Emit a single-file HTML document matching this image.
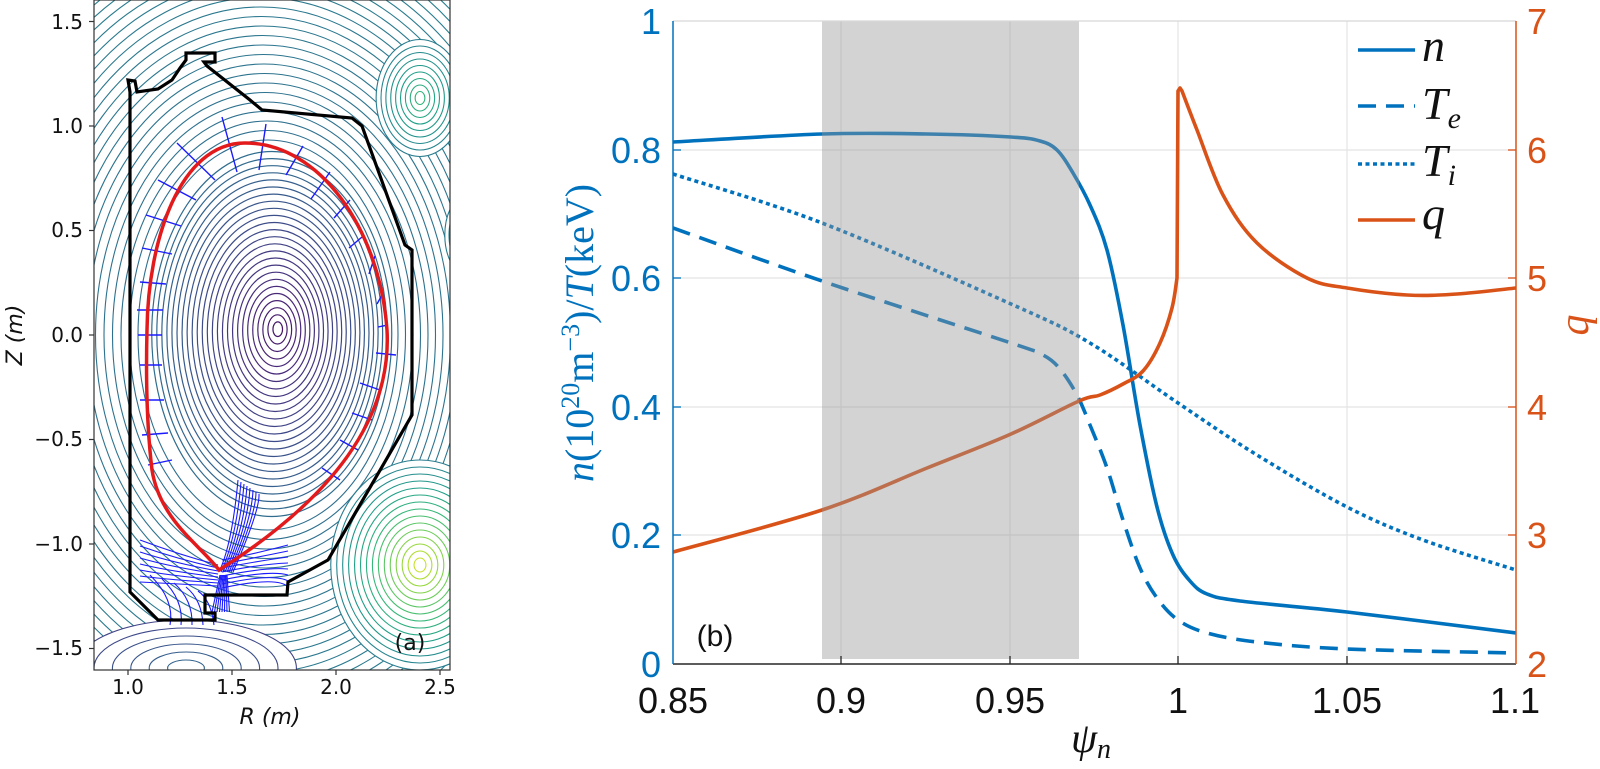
<!DOCTYPE html>
<html><head><meta charset="utf-8">
<style>
html,body{margin:0;padding:0;background:#fff;overflow:hidden;width:1600px;height:769px;}
svg{display:block;}
</style></head>
<body>
<svg id="s" width="1600" height="769" viewBox="0 0 1600 769" xmlns="http://www.w3.org/2000/svg">
<defs>
<clipPath id="cl"><rect x="94" y="0" width="356" height="670"/></clipPath>
<clipPath id="cr"><rect x="673" y="21" width="843" height="643"/></clipPath>
</defs>
<rect width="1600" height="769" fill="#fff"/>
<g id="left" clip-path="url(#cl)"></g>
<rect x="94" y="0" width="356" height="670" fill="none" stroke="#333" stroke-width="1.2"/>
<g font-family="DejaVu Sans, sans-serif" font-size="20" fill="#111">
<text x="83" y="29" text-anchor="end">1.5</text>
<text x="83" y="133" text-anchor="end">1.0</text>
<text x="83" y="237" text-anchor="end">0.5</text>
<text x="83" y="342" text-anchor="end">0.0</text>
<text x="83" y="446" text-anchor="end">−0.5</text>
<text x="83" y="551" text-anchor="end">−1.0</text>
<text x="83" y="655" text-anchor="end">−1.5</text>
<text x="128" y="694" text-anchor="middle">1.0</text>
<text x="232" y="694" text-anchor="middle">1.5</text>
<text x="336" y="694" text-anchor="middle">2.0</text>
<text x="440" y="694" text-anchor="middle">2.5</text>
<text x="270" y="724" text-anchor="middle" font-style="italic" font-size="22">R (m)</text>
<text transform="translate(22,335) rotate(-90)" text-anchor="middle" font-style="italic" font-size="22">Z (m)</text>
<text x="410" y="650" text-anchor="middle" font-size="22">(a)</text>
</g>
<g id="ltk" stroke="#333" stroke-width="1.2"></g>

<g id="grid" stroke="#e4e4e4" stroke-width="1.2"></g>
<g id="curves" clip-path="url(#cr)" fill="none" stroke-width="3.6" stroke-linejoin="round"></g>
<rect x="822" y="21" width="257" height="638" fill="rgb(150,150,150)" fill-opacity="0.42"/>
<line x1="673" y1="21" x2="1516" y2="21" stroke="#d8d8d8" stroke-width="1.2"/>
<line x1="673" y1="664" x2="1516" y2="664" stroke="#262626" stroke-width="1.5"/>
<line x1="673" y1="21" x2="673" y2="664" stroke="#0072BD" stroke-width="1.5"/>
<line x1="1516" y1="21" x2="1516" y2="664" stroke="#D95319" stroke-width="1.5"/>
<g id="rtk" stroke-width="1.3"></g>
<text x="715" y="646" font-family="Liberation Sans, sans-serif" font-size="30" text-anchor="middle" fill="#111">(b)</text>
<g font-family="Liberation Sans, sans-serif" font-size="36" fill="#0072BD" text-anchor="end">
<text x="661" y="34">1</text>
<text x="661" y="163">0.8</text>
<text x="661" y="291">0.6</text>
<text x="661" y="420">0.4</text>
<text x="661" y="548">0.2</text>
<text x="661" y="677">0</text>
</g>
<g font-family="Liberation Sans, sans-serif" font-size="36" fill="#D95319">
<text x="1527" y="34">7</text>
<text x="1527" y="163">6</text>
<text x="1527" y="291">5</text>
<text x="1527" y="420">4</text>
<text x="1527" y="548">3</text>
<text x="1527" y="677">2</text>
</g>
<g font-family="Liberation Sans, sans-serif" font-size="36" fill="#111" text-anchor="middle">
<text x="673" y="713">0.85</text>
<text x="841" y="713">0.9</text>
<text x="1010" y="713">0.95</text>
<text x="1178" y="713">1</text>
<text x="1347" y="713">1.05</text>
<text x="1515" y="713">1.1</text>
</g>
<text x="1091" y="752" font-family="Liberation Serif, serif" font-style="italic" font-size="42" text-anchor="middle" fill="#111">ψ<tspan font-size="28" dy="6">n</tspan></text>
<text transform="translate(593,333) rotate(-90)" font-family="Liberation Serif, serif" font-size="40" text-anchor="middle" fill="#0072BD"><tspan font-style="italic">n</tspan>(10<tspan font-size="26" dy="-14">20</tspan><tspan dy="14">m</tspan><tspan font-size="26" dy="-14">−3</tspan><tspan dy="14">)/</tspan><tspan font-style="italic">T</tspan>(keV)</text>
<text transform="translate(1588,325) rotate(-90)" font-family="Liberation Serif, serif" font-style="italic" font-size="42" text-anchor="middle" fill="#D95319">q</text>
<g stroke-width="3.6" fill="none">
<line x1="1358" y1="50" x2="1415" y2="50" stroke="#0072BD"/>
<line x1="1358" y1="106" x2="1415" y2="106" stroke="#0072BD" stroke-dasharray="18,10"/>
<line x1="1358" y1="164" x2="1415" y2="164" stroke="#0072BD" stroke-dasharray="4,3.5"/>
<line x1="1358" y1="220" x2="1415" y2="220" stroke="#D95319"/>
</g>
<g font-family="Liberation Serif, serif" font-style="italic" font-size="46" fill="#111">
<text x="1422" y="61">n</text>
<text x="1422" y="119">T<tspan font-size="30" dy="9">e</tspan></text>
<text x="1422" y="176">T<tspan font-size="30" dy="9">i</tspan></text>
<text x="1422" y="229">q</text>
</g>
</svg>
<script>
const NS="http://www.w3.org/2000/svg";
function el(p,tag,a){const e=document.createElementNS(NS,tag);for(const k in a)e.setAttribute(k,a[k]);p.appendChild(e);return e;}
function hex(c){return [parseInt(c.slice(1,3),16),parseInt(c.slice(3,5),16),parseInt(c.slice(5,7),16)];}
const vir=["#440154","#482878","#3e4989","#31688e","#26828e","#1f9e89","#35b779","#6ece58","#b5de2b","#fde725"].map(hex);
function vc(t){t=Math.max(0,Math.min(1,t));const f=t*9,i=Math.min(8,Math.floor(f)),u=f-i;const a=vir[i],b=vir[i+1];return "rgb("+a.map((v,j)=>Math.round(v+(b[j]-v)*u)).join(",")+")";}
const L=document.getElementById("left");
for(let k=0;k<25;k++){
  const rx=130+8*k, ry=195+9.5*k;
  el(L,"ellipse",{cx:268-0.5*k,cy:335,rx:rx,ry:ry,fill:"none",stroke:vc(0.36+k*0.003),"stroke-width":1.1});
}
function coil(cx,cy,n,step,t0,t1,sx){for(let k=n;k>=1;k--){el(L,"ellipse",{cx:cx,cy:cy,rx:k*step*(sx||1),ry:k*step,fill:"#fff",stroke:vc(t1-(t1-t0)*k/n),"stroke-width":1.1});}}
coil(420,565,15,7,0.42,0.95,0.85);
coil(420,98,9,6.5,0.42,0.68,0.75);
coil(470,235,6,7,0.42,0.6,0.6);
coil(186,668,6,8,0.2,0.34,2.3);
for(let k=1;k<=25;k++){
  const rx=4.8*k, ry=7.3*k;
  el(L,"ellipse",{cx:278-0.25*k,cy:329+0.2*k,rx:rx,ry:ry,fill:"none",stroke:vc(0.05+k*0.012),"stroke-width":1.2});
}
const bl="#1a1aff";
for(let i=0;i<8;i++){
  el(L,"path",{d:`M${219+i*2},572 Q${232+i*4},${545-i*5} ${238+i*3},${480+i*2}`,fill:"none",stroke:bl,"stroke-width":1.1});
  el(L,"path",{d:`M${222},${560+i*4} Q${250+i*4},${555+i*3} ${288},${545+i*6}`,fill:"none",stroke:bl,"stroke-width":1.1});
  el(L,"path",{d:`M${218},${565+i*3} Q${180-i*3},${555+i*4} ${140},${540+i*6}`,fill:"none",stroke:bl,"stroke-width":1.1});
  el(L,"path",{d:`M${220+i},575 L${212+i*2.5},${612}`,fill:"none",stroke:bl,"stroke-width":1.1});
}
for(let i=0;i<5;i++){el(L,"path",{d:`M${150+i*12},${575+i*4} Q${175+i*9},${600} ${170+i*11},${625}`,fill:"none",stroke:bl,"stroke-width":1.1});}
const sep="M219,570 C200,545 160,520 152,470 C146,420 146,370 147,330 C148,240 180,143 245,143 C320,143 380,230 387,330 C392,420 330,500 219,570 Z";
const tk=[[177,143,215,180],[222,117,237,172],[266,124,259,170],[303,146,286,175],[330,172,311,199],[350,200,334,218],[362,237,349,248],[375,256,369,274],[382,295,377,304],[388,325,378,327],[396,355,376,353],[138,335,162,335],[137,310,163,310],[140,282,166,284],[142,248,172,254],[146,215,181,226],[158,180,196,200],[140,365,162,365],[140,400,164,400],[142,435,168,433],[148,465,172,460],[380,390,360,383],[372,420,352,413],[358,450,340,440],[340,480,322,468]];
tk.forEach(t=>el(L,"line",{x1:t[0],y1:t[1],x2:t[2],y2:t[3],stroke:bl,"stroke-width":1.4}));
el(L,"path",{d:sep,fill:"none",stroke:"#e31a1c","stroke-width":3.5});
el(L,"path",{d:"M130,592 L130,92 L128,80 L135,81 L137,92 L158,89 L172,80 L180,68 L186,60 L186,53 L215,53 L215,62 L204,62 L207,66 L250,100 L262,110 L352,118 L362,126 L405,245 L412,250 L412,415 L328,560 L288,582 L287,595 L205,595 L205,613 L215,613 L215,620 L158,620 L130,592 Z",fill:"none",stroke:"#000","stroke-width":3.2,"stroke-linejoin":"miter"});
const LT=document.getElementById("ltk");
[1,1.5,2,2.5].forEach(r=>{const x=128+(r-1)*208;el(LT,"line",{x1:x,y1:670,x2:x,y2:675});});
[-1.5,-1,-0.5,0,0.5,1,1.5].forEach(z=>{const y=335-z*209;el(LT,"line",{x1:89,y1:y,x2:94,y2:y});});
const G=document.getElementById("grid"),RT=document.getElementById("rtk");
[841,1010,1178,1347].forEach(x=>{el(G,"line",{x1:x,y1:21,x2:x,y2:664});el(RT,"line",{x1:x,y1:664,x2:x,y2:656,stroke:"#262626"});});
[150,278,407,535].forEach(y=>{el(G,"line",{x1:673,y1:y,x2:1516,y2:y});el(RT,"line",{x1:673,y1:y,x2:681,y2:y,stroke:"#0072BD"});el(RT,"line",{x1:1516,y1:y,x2:1508,y2:y,stroke:"#D95319"});});
function sm(p){let d="M"+p[0][0]+","+p[0][1];for(let i=0;i<p.length-1;i++){const p0=p[Math.max(0,i-1)],p1=p[i],p2=p[i+1],p3=p[Math.min(p.length-1,i+2)];const c1=[p1[0]+(p2[0]-p0[0])/6,p1[1]+(p2[1]-p0[1])/6],c2=[p2[0]-(p3[0]-p1[0])/6,p2[1]-(p3[1]-p1[1])/6];d+=` C${c1[0].toFixed(1)},${c1[1].toFixed(1)} ${c2[0].toFixed(1)},${c2[1].toFixed(1)} ${p2[0]},${p2[1]}`;}return d;}
const C=document.getElementById("curves");
const n=[[673,142],[822,134],[927,134],[1011,137],[1040,141],[1057,150],[1073,173],[1090,205],[1107,250],[1123,325],[1140,425],[1157,507],[1173,555],[1190,581],[1207,594],[1240,601],[1347,612],[1516,633]];
const te=[[673,228],[822,281],[1011,343],[1043,355],[1060,369],[1077,395],[1090,425],[1107,468],[1123,520],[1140,568],[1157,598],[1178,620],[1207,633],[1257,642],[1347,649],[1516,653]];
const ti=[[673,174],[822,223],[1011,304],[1090,343],[1178,403],[1257,455],[1347,507],[1423,540],[1516,570]];
const q1=[[673,552],[822,510],[927,468],[1011,434],[1079,401],[1100,395],[1123,384],[1143,371],[1160,343],[1172,308],[1177,278]];
const q2=[[1182,91],[1197,130],[1223,195],[1257,243],[1307,278],[1347,288],[1407,295],[1457,294],[1516,288]];
el(C,"path",{d:sm(ti),stroke:"#0072BD","stroke-dasharray":"4,3.5"});
el(C,"path",{d:sm(te),stroke:"#0072BD","stroke-dasharray":"18,10"});
el(C,"path",{d:sm(n),stroke:"#0072BD"});
el(C,"path",{d:sm(q1)+" L1178,91 L1180,88 "+sm(q2).replace("M","L"),stroke:"#D95319"});
</script>
</body></html>
